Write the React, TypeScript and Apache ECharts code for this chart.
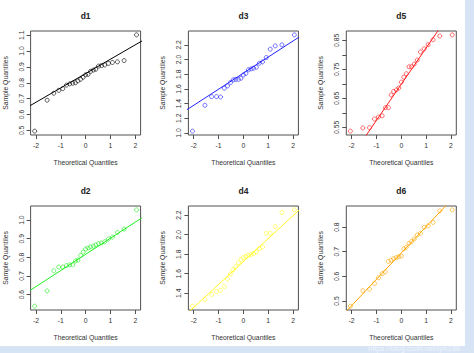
import React, { useEffect, useRef } from "react";
import * as echarts from "echarts";

// Theoretical normal quantiles (n = 25), shared by every panel
const theoretical = [-2.05, -1.55, -1.28, -1.08, -0.92, -0.77, -0.64, -0.52, -0.41, -0.31, -0.2, -0.1, 0, 0.1, 0.2, 0.31, 0.41, 0.52, 0.64, 0.77, 0.92, 1.08, 1.28, 1.55, 2.05];

// Sorted sample values
const d1 = [0.495, 0.69, 0.734, 0.752, 0.763, 0.785, 0.793, 0.797, 0.8, 0.812, 0.822, 0.835, 0.85, 0.853, 0.872, 0.88, 0.885, 0.905, 0.908, 0.912, 0.922, 0.928, 0.932, 0.94, 1.102];
const d3 = [1.025, 1.377, 1.495, 1.495, 1.49, 1.609, 1.641, 1.686, 1.723, 1.73, 1.73, 1.745, 1.79, 1.81, 1.86, 1.873, 1.882, 1.895, 1.95, 1.968, 2.027, 2.141, 2.186, 2.2, 2.336];
const d5 = [0.537, 0.548, 0.549, 0.579, 0.586, 0.59, 0.618, 0.618, 0.662, 0.674, 0.679, 0.686, 0.706, 0.723, 0.735, 0.759, 0.759, 0.768, 0.782, 0.81, 0.821, 0.835, 0.852, 0.865, 0.869];
const d2 = [0.538, 0.62, 0.728, 0.748, 0.748, 0.756, 0.76, 0.76, 0.78, 0.785, 0.81, 0.828, 0.845, 0.85, 0.856, 0.86, 0.867, 0.874, 0.877, 0.884, 0.899, 0.909, 0.934, 0.952, 1.055];
const d4 = [1.268, 1.336, 1.387, 1.417, 1.43, 1.47, 1.545, 1.598, 1.64, 1.672, 1.713, 1.746, 1.766, 1.78, 1.79, 1.797, 1.807, 1.824, 1.857, 1.874, 2.015, 2.015, 2.082, 2.227, 2.254];
const d6 = [0.479, 0.542, 0.548, 0.571, 0.594, 0.611, 0.618, 0.661, 0.665, 0.672, 0.676, 0.68, 0.682, 0.712, 0.718, 0.734, 0.741, 0.752, 0.768, 0.775, 0.799, 0.805, 0.819, 0.866, 0.87];

// Panels in layout order (row-major)
const panelNames = ["d1", "d3", "d5", "d2", "d4", "d6"];
const panelValues = [d1, d3, d5, d2, d4, d6];
const panelColors = ["#000000", "#2222ff", "#ff1a1a", "#22ee22", "#ffff22", "#ffa500"];

// Reference (qqline) intercept and slope
const lineIntercepts = [0.858, 1.815, 0.699, 0.816, 1.725, 0.695];
const lineSlopes = [0.0905, 0.219, 0.1247, 0.0866, 0.235, 0.107];

// Tick marks
const xTicks = [-2, -1, 0, 1, 2];
const yTicks = [
  [0.5, 0.6, 0.7, 0.8, 0.9, 1.0, 1.1],
  [1.0, 1.2, 1.4, 1.6, 1.8, 2.0, 2.2],
  [0.55, 0.6, 0.65, 0.7, 0.75, 0.8, 0.85],
  [0.6, 0.7, 0.8, 0.9, 1.0],
  [1.4, 1.6, 1.8, 2.0, 2.2],
  [0.5, 0.6, 0.7, 0.8],
];
const yLabels = [
  [0.5, 0.6, 0.7, 0.8, 0.9, 1.0, 1.1],
  [1.0, 1.2, 1.4, 1.6, 1.8, 2.0, 2.2],
  [0.55, 0.65, 0.75, 0.85],
  [0.6, 0.7, 0.8, 0.9, 1.0],
  [1.4, 1.6, 1.8, 2.0, 2.2],
  [0.5, 0.6, 0.7, 0.8],
];
const yDecimals = [1, 1, 2, 1, 1, 1];

const xTitle = "Theoretical Quantiles";
const yTitle = "Sample Quantiles";

export default function App() {
  const ref = useRef<HTMLDivElement>(null);

  useEffect(() => {
    if (!ref.current) return;
    const chart = echarts.init(ref.current, undefined, { renderer: "svg" });

    const colLefts = [30.6, 188.4, 346.3];
    const rowTops = [31, 206];
    const gw = 110;
    const gh = 104;
    const font = "Liberation Sans, Arial, sans-serif";
    const textColor = "#333";
    const boxColor = "#505050";
    const fs = 6.8;

    const ext = (arr: number[]) => {
      const lo = Math.min(...arr);
      const hi = Math.max(...arr);
      const r = hi - lo;
      return [lo - 0.04 * r, hi + 0.04 * r];
    };
    const xr = ext(theoretical);

    const grids: any[] = [];
    const xAxes: any[] = [];
    const yAxes: any[] = [];
    const series: any[] = [];
    const graphics: any[] = [];

    panelNames.forEach((name, i) => {
      const col = i % 3;
      const row = Math.floor(i / 3);
      const left = colLefts[col];
      const top = rowTops[row];
      grids.push({
        left,
        top,
        width: gw,
        height: gh,
        show: true,
        borderColor: boxColor,
        borderWidth: 1,
        backgroundColor: "transparent",
        containLabel: false,
      });
      const yr = ext(panelValues[i]);
      xAxes.push({
        type: "value",
        gridIndex: i,
        position: "bottom",
        min: xr[0],
        max: xr[1],
        axisLine: { show: false, onZero: false },
        splitLine: { show: false },
        axisTick: { show: true, length: 4, customValues: xTicks, lineStyle: { color: boxColor, width: 1 } },
        axisLabel: {
          customValues: xTicks,
          margin: 7,
          fontSize: fs,
          color: textColor,
          fontFamily: font,
          formatter: (v: number) => String(v),
        },
        name: xTitle,
        nameLocation: "middle",
        nameGap: 24,
        nameTextStyle: { fontSize: fs, color: textColor, fontFamily: font },
      });
      const dec = yDecimals[i];
      yAxes.push({
        type: "value",
        gridIndex: i,
        position: "left",
        min: yr[0],
        max: yr[1],
        axisLine: { show: false, onZero: false },
        splitLine: { show: false },
        axisTick: { show: true, length: 4, customValues: yTicks[i], lineStyle: { color: boxColor, width: 1 } },
        axisLabel: {
          customValues: yLabels[i],
          rotate: 90,
          margin: 6,
          fontSize: fs,
          color: textColor,
          fontFamily: font,
          formatter: (v: number) => v.toFixed(dec),
        },
        name: yTitle,
        nameLocation: "middle",
        nameGap: 22,
        nameRotate: 90,
        nameTextStyle: { fontSize: fs, color: textColor, fontFamily: font },
      });
      series.push({
        type: "scatter",
        xAxisIndex: i,
        yAxisIndex: i,
        data: theoretical.map((x, j) => [x, panelValues[i][j]]),
        symbol: "circle",
        symbolSize: 4,
        itemStyle: { color: "rgba(0,0,0,0)", borderColor: panelColors[i], borderWidth: 0.8 },
        silent: true,
        z: 3,
      });
      const a = lineIntercepts[i];
      const b = lineSlopes[i];
      series.push({
        type: "line",
        xAxisIndex: i,
        yAxisIndex: i,
        data: [
          [-3, a + b * -3],
          [3, a + b * 3],
        ],
        showSymbol: false,
        symbol: "none",
        clip: true,
        lineStyle: { color: panelColors[i], width: 1 },
        silent: true,
        z: 2,
      });
      graphics.push({
        type: "text",
        x: left + gw / 2,
        y: row === 0 ? 16 : 191,
        style: {
          text: name,
          fill: "#222",
          font: `bold 8.5px ${font}`,
          textAlign: "center",
          textVerticalAlign: "middle",
        },
      });
    });

    // screenshot frame and watermark
    graphics.push({
      type: "rect",
      shape: { x: 465, y: 0, width: 9, height: 353 },
      style: { fill: "#d6e4f6" },
      z: 10,
    });
    graphics.push({
      type: "rect",
      shape: { x: 0, y: 346, width: 474, height: 7 },
      style: { fill: "#d6e4f6" },
      z: 10,
    });
    graphics.push({
      type: "text",
      x: 460,
      y: 348,
      style: {
        text: "https://blog.csdn.net/lph188",
        fill: "rgba(240,246,252,0.9)",
        font: `7.5px ${font}`,
        textAlign: "right",
        textVerticalAlign: "middle",
      },
      z: 11,
    });

    chart.setOption({
      animation: false,
      backgroundColor: "#ffffff",
      grid: grids,
      xAxis: xAxes,
      yAxis: yAxes,
      series,
      graphic: graphics,
    });

    return () => chart.dispose();
  }, []);

  return (
    <div
      ref={ref}
      style={{ position: "fixed", left: 0, top: 0, width: 474, height: 353 }}
    />
  );
}
